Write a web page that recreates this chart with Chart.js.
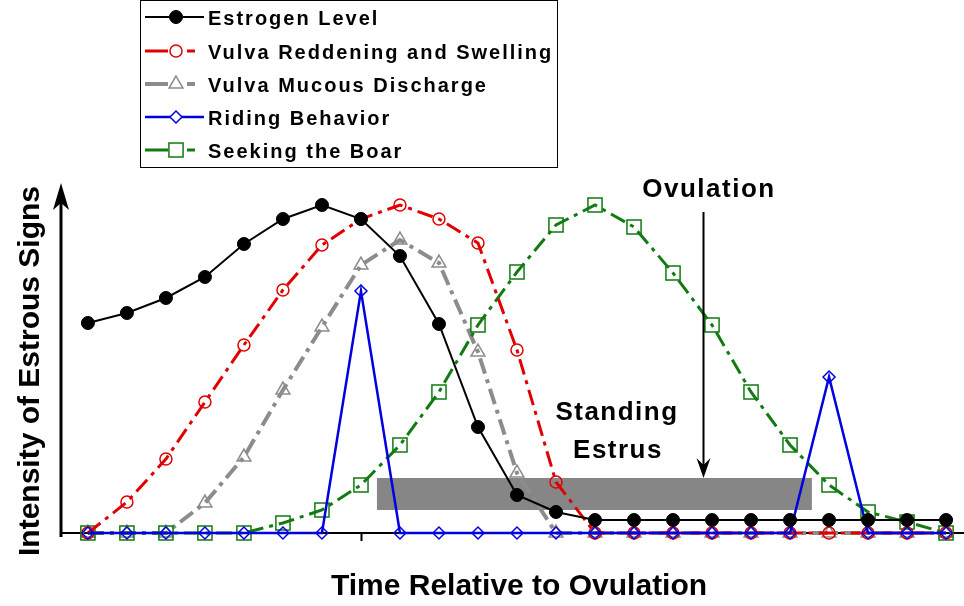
<!DOCTYPE html>
<html lang="en">
<head>
    <meta charset="UTF-8">
    <title>Estrous Signs</title>
    <script src="https://cdn.jsdelivr.net/npm/chart.js"></script>
    <style>
        body {
            margin: 0;
            background-color: #fff;
        }
        canvas {
            display: block;
        }
    </style>
</head>
<body>
    <canvas id="estrusChart" width="964" height="606"></canvas>

    <script>
        // Time steps (no tick labels on the original)
        const timePoints = [0, 1, 2, 3, 4, 5, 6, 7, 8, 9, 10, 11, 12, 13, 14, 15, 16, 17, 18, 19, 20, 21, 22];

        const estrogenLevel   = [210, 220, 235, 256, 289, 314, 328, 314, 277, 209, 106, 38, 21, 13, 13, 13, 13, 13, 13, 13, 13, 13, 13];
        const vulvaReddening  = [0, 31, 74, 131, 188, 243, 288, 314, 328, 314, 290, 183, 51, 0, 0, 0, 0, 0, 0, 0, 0, 0, 0];
        const vulvaMucous     = [0, 0, 0, 30, 76, 143, 206, 268, 293, 270, 181, 60, 0, 0, 0, 0, 0, 0, 0, 0, 0, 0, 0];
        const ridingBehavior  = [0, 0, 0, 0, 0, 0, 0, 242, 0, 0, 0, 0, 0, 0, 0, 0, 0, 0, 0, 156, 0, 0, 0];
        const seekingBoar     = [0, 0, 0, 0, 0, 10, 23, 48, 88, 141, 208, 261, 308, 328, 306, 260, 208, 141, 88, 48, 21, 11, 0];

        // Standing estrus band and ovulation marker, in data units
        const standingBand = { from: 7.41, to: 18.56, low: 23, high: 55 };
        const ovulationAt = 15.77;

        function toPoints(values) {
            return values.map((v, i) => ({ x: timePoints[i], y: v }));
        }

        const dashed = [16, 6, 4, 6];

        // Band behind the lines, axes + notes + legend on top
        const decorPlugin = {
            id: 'decor',
            beforeDatasetsDraw(chart) {
                const { ctx, scales: { x, y } } = chart;
                ctx.save();
                ctx.fillStyle = '#868686';
                const x1 = x.getPixelForValue(standingBand.from);
                const x2 = x.getPixelForValue(standingBand.to);
                const y1 = y.getPixelForValue(standingBand.high);
                const y2 = y.getPixelForValue(standingBand.low);
                ctx.fillRect(x1, y1, x2 - x1, y2 - y1);

                // x axis line
                const base = y.getPixelForValue(0);
                ctx.strokeStyle = '#000';
                ctx.lineWidth = 2;
                ctx.beginPath();
                ctx.moveTo(chart.chartArea.left, base);
                ctx.lineTo(chart.chartArea.right, base);
                const tx = Math.round(x.getPixelForValue(7)) + 0.5;
                ctx.moveTo(tx, base);
                ctx.lineTo(tx, base + 8);
                ctx.stroke();
                ctx.restore();
            },
            afterDraw(chart) {
                const { ctx, scales: { x, y } } = chart;
                const left = chart.chartArea.left;
                const base = y.getPixelForValue(0);
                ctx.save();

                // y axis with arrow
                ctx.strokeStyle = '#000';
                ctx.fillStyle = '#000';
                ctx.lineWidth = 3;
                ctx.beginPath();
                ctx.moveTo(left, base + 4);
                ctx.lineTo(left, 200);
                ctx.stroke();
                ctx.beginPath();
                ctx.moveTo(left, 183);
                ctx.lineTo(left + 8, 210);
                ctx.lineTo(left, 203);
                ctx.lineTo(left - 8, 210);
                ctx.closePath();
                ctx.fill();

                // ovulation arrow
                const ox = Math.round(x.getPixelForValue(ovulationAt)) + 0.5;
                ctx.lineWidth = 2;
                ctx.beginPath();
                ctx.moveTo(ox, 212);
                ctx.lineTo(ox, 470);
                ctx.stroke();
                ctx.beginPath();
                ctx.moveTo(ox, 478);
                ctx.lineTo(ox + 7, 458);
                ctx.lineTo(ox, 465);
                ctx.lineTo(ox - 7, 458);
                ctx.closePath();
                ctx.fill();

                // notes
                ctx.textAlign = 'center';
                ctx.textBaseline = 'alphabetic';
                ctx.font = 'bold 26px "Liberation Sans", Arial, sans-serif';
                ctx.letterSpacing = '1.5px';
                ctx.fillText('Ovulation', 709, 197);
                ctx.fillText('Standing', 617, 420);
                ctx.fillText('Estrus', 618, 458);

                // axis titles
                ctx.letterSpacing = '0px';
                ctx.font = 'bold 30px "Liberation Sans", Arial, sans-serif';
                ctx.fillText('Time Relative to Ovulation', 519, 595);
                ctx.save();
                ctx.translate(39, 371);
                ctx.rotate(-Math.PI / 2);
                ctx.fillText('Intensity of Estrous Signs', 0, 0);
                ctx.restore();

                // legend
                ctx.fillStyle = '#fff';
                ctx.fillRect(140, 0, 417, 167);
                ctx.strokeStyle = '#000';
                ctx.lineWidth = 1;
                ctx.strokeRect(140.5, 0.5, 417, 167);
                const rows = [17, 51, 84, 117, 150];
                chart.data.datasets.forEach((ds, i) => {
                    const ry = rows[i];
                    ctx.strokeStyle = ds.borderColor;
                    ctx.lineWidth = ds.borderWidth;
                    ctx.setLineDash([]);
                    ctx.beginPath();
                    if (ds.borderDash) {
                        ctx.moveTo(145, ry);
                        ctx.lineTo(168, ry);
                        ctx.moveTo(187, ry);
                        ctx.lineTo(195, ry);
                    } else {
                        ctx.moveTo(145, ry);
                        ctx.lineTo(204, ry);
                    }
                    ctx.stroke();
                    ctx.fillStyle = ds.pointBackgroundColor === '#000' ? '#000' : '#fff';
                    ctx.strokeStyle = ds.borderColor;
                    ctx.lineWidth = ds.pointBorderWidth;
                    Chart.helpers.drawPoint(ctx, {
                        pointStyle: ds.pointStyle,
                        radius: ds.pointRadius,
                        borderWidth: ds.pointBorderWidth,
                        rotation: 0
                    }, 176, ry);
                    ctx.fillStyle = '#000';
                    ctx.textAlign = 'left';
                    ctx.font = 'bold 20px "Liberation Sans", Arial, sans-serif';
                    ctx.letterSpacing = '2px';
                    ctx.fillText(ds.label, 208, ry + 8);
                });
                ctx.restore();
            }
        };

        const ctx = document.getElementById('estrusChart').getContext('2d');
        const estrusChart = new Chart(ctx, {
            type: 'line',
            data: {
                datasets: [{
                    label: 'Estrogen Level',
                    data: toPoints(estrogenLevel),
                    borderColor: '#000',
                    borderWidth: 2,
                    pointStyle: 'circle',
                    pointRadius: 6.5,
                    pointBorderWidth: 1,
                    pointBackgroundColor: '#000',
                    order: 0
                }, {
                    label: 'Vulva Reddening and Swelling',
                    data: toPoints(vulvaReddening),
                    borderColor: '#e00000',
                    borderWidth: 3,
                    borderDash: dashed,
                    pointStyle: 'circle',
                    pointRadius: 6,
                    pointBorderWidth: 1.5,
                    pointBackgroundColor: 'rgba(255,255,255,0)',
                    order: 2
                }, {
                    label: 'Vulva Mucous Discharge',
                    data: toPoints(vulvaMucous),
                    borderColor: '#8c8c8c',
                    borderWidth: 4,
                    borderDash: dashed,
                    pointStyle: 'triangle',
                    pointRadius: 8,
                    pointBorderWidth: 1.5,
                    pointBackgroundColor: 'rgba(255,255,255,0)',
                    order: 4
                }, {
                    label: 'Riding Behavior',
                    data: toPoints(ridingBehavior),
                    borderColor: '#0000e0',
                    borderWidth: 2.5,
                    pointStyle: 'rectRot',
                    pointRadius: 6,
                    pointBorderWidth: 1.5,
                    pointBackgroundColor: 'rgba(255,255,255,0)',
                    order: 1
                }, {
                    label: 'Seeking the Boar',
                    data: toPoints(seekingBoar),
                    borderColor: '#117a11',
                    borderWidth: 3,
                    borderDash: dashed,
                    pointStyle: 'rect',
                    pointRadius: 10,
                    pointBorderWidth: 1.5,
                    pointBackgroundColor: 'rgba(255,255,255,0)',
                    order: 3
                }]
            },
            options: {
                responsive: false,
                animation: false,
                devicePixelRatio: 1,
                layout: {
                    autoPadding: false,
                    padding: { left: 61, right: 0, top: 183, bottom: 73 }
                },
                datasets: {
                    line: { clip: false, tension: 0 }
                },
                scales: {
                    x: { type: 'linear', min: -0.69, max: 22.46, display: false },
                    y: { min: 0, max: 350, display: false }
                },
                plugins: {
                    legend: { display: false },
                    tooltip: { enabled: false }
                }
            },
            plugins: [decorPlugin]
        });
    </script>
</body>
</html>
